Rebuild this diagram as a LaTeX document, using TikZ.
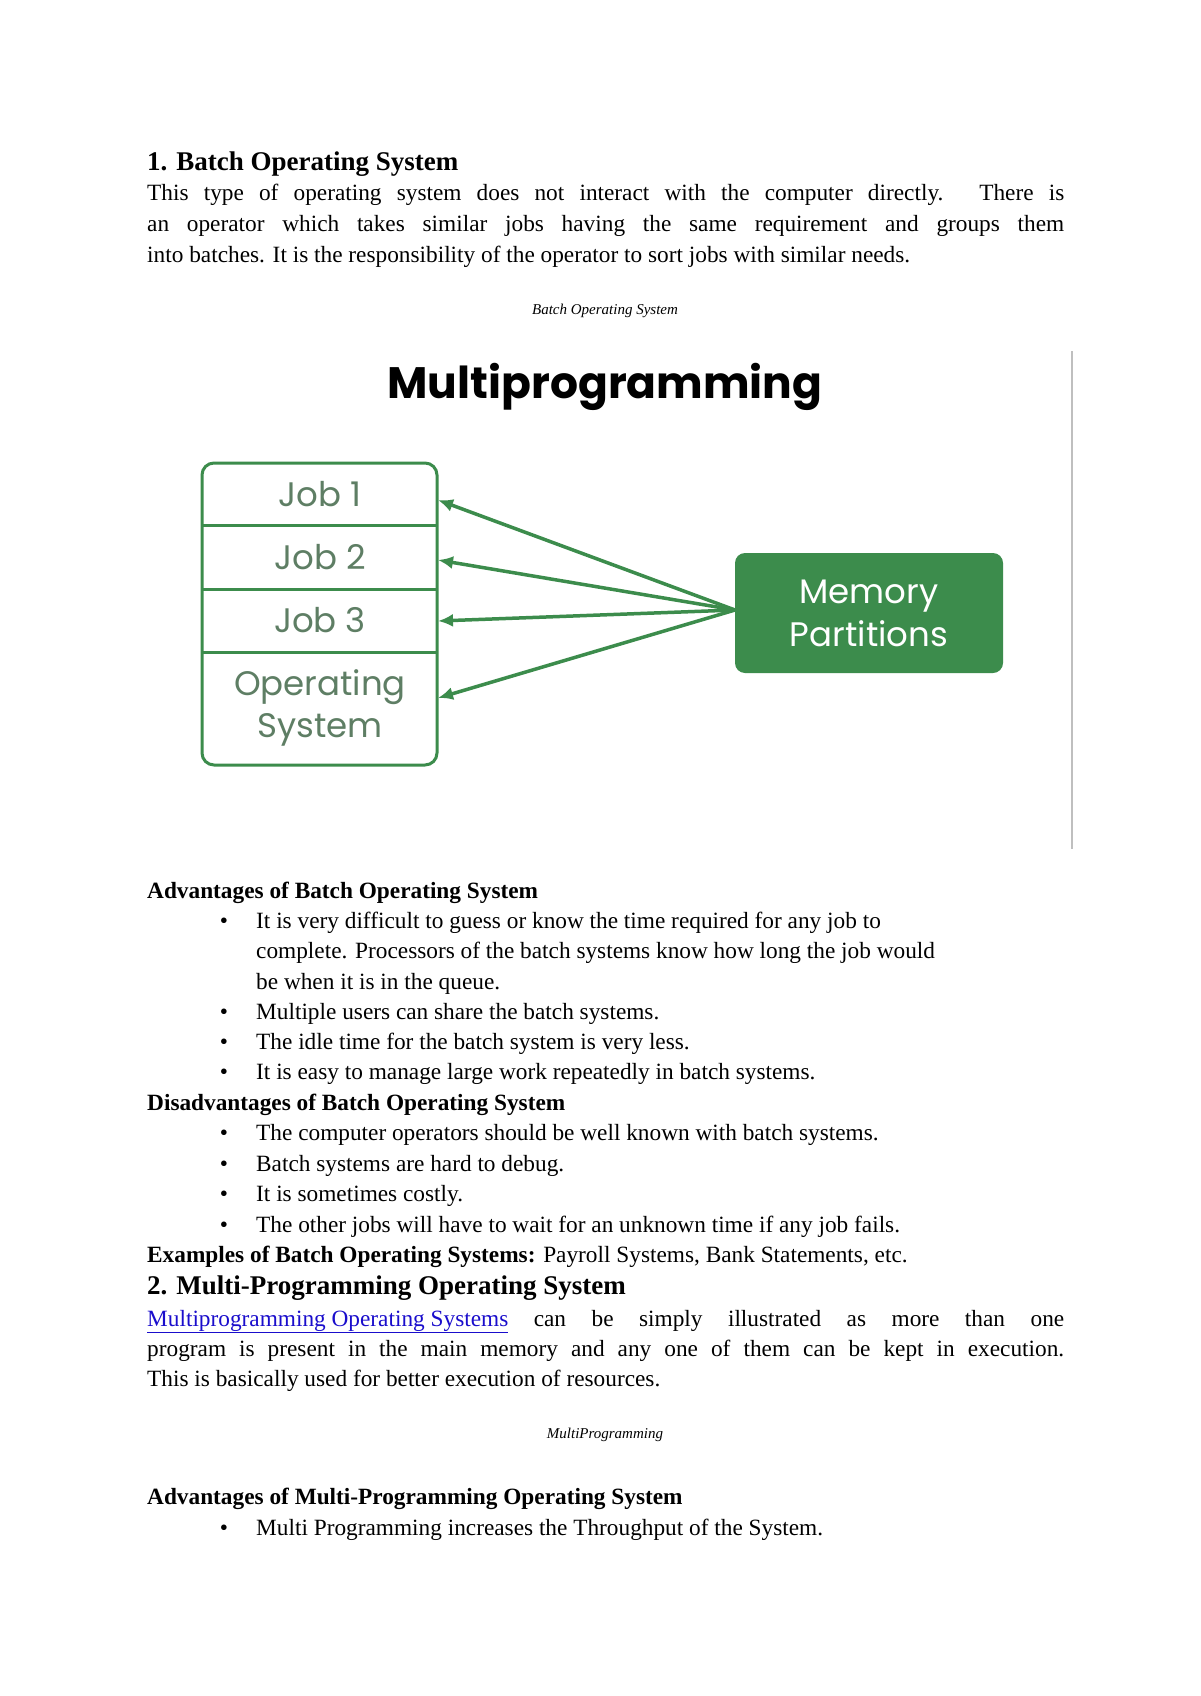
\documentclass[tikz,border=0pt]{standalone}
\usepackage{fontspec}
\setmainfont{Liberation Serif}
\newfontfamily\diag{Poppins}
\usetikzlibrary{arrows.meta}
\definecolor{gg}{HTML}{3C8C4C}
\definecolor{gt}{HTML}{5E7E64}
\definecolor{lk}{HTML}{1A0DCC}
\begin{document}
\begin{tikzpicture}[x=1pt,y=-1pt,
  tx/.style={anchor=base west,inner sep=0pt,font=\fontsize{23.3}{26}\selectfont},
  hd/.style={anchor=base west,inner sep=0pt,font=\fontsize{23.3}{26}\selectfont\bfseries},
  hb/.style={anchor=base west,inner sep=0pt,font=\fontsize{27}{30}\selectfont\bfseries},
  capt/.style={anchor=base,inner sep=0pt,font=\fontsize{15}{16}\selectfont\itshape},
  bul/.style={anchor=base,inner sep=0pt,font=\fontsize{23.3}{26}\selectfont},
  job/.style={inner sep=0pt,text=gt,font=\diag\fontsize{34}{40}\selectfont,align=center},
  arr/.style={draw=gg,line width=3.5pt,-{Latex[length=15pt,width=13pt]}}]
\useasboundingbox (0,0) rectangle (1200,1696);
\fill[white] (0,0) rectangle (1200,1696);
\node[hb] (h1) at (147,171) {1. Batch Operating System};
\node[tx] (p1) at (147,201) {\hbox to 917pt{This type of operating system does not interact with the computer directly. There is}};
\node[tx] (p2) at (147,232) {\hbox to 917pt{an operator which takes similar jobs having the same requirement and groups them}};
\node[tx] (p3) at (147,262) {into batches. It is the responsibility of the operator to sort jobs with similar needs.};
\node[capt] (c1) at (605,314) {Batch Operating System};
\draw[gray!50,line width=1.5pt] (1072,351) -- (1072,849);
\node[inner sep=0pt,font=\diag\fontsize{44}{50}\selectfont\bfseries] (t) at (605,387) {Multiprogramming};
\draw[gg,line width=3pt,rounded corners=12pt] (202,463) rectangle (437,765);
\draw[gg,line width=3pt] (202,525) -- (437,525) (202,589) -- (437,589) (202,652) -- (437,652);
\node[job] (j1) at (320,494) {Job 1};
\node[job] (j2) at (320,557) {Job 2};
\node[job] (j3) at (320,620) {Job 3};
\node[job,font=\diag\fontsize{34}{42}\selectfont] (os) at (320,708) {Operating\\System};
\node[fill=gg,rounded corners=10pt,minimum width=268pt,minimum height=120pt,text=white,align=center,font=\diag\fontsize{34}{43}\selectfont] (mem) at (869,613) {Memory\\Partitions};
\coordinate (m) at (735,610);
\coordinate (e1) at (438,500);
\coordinate (e2) at (438,560);
\coordinate (e3) at (438,621);
\coordinate (e4) at (438,698);
\draw[arr] (m) -- (e1);
\draw[arr] (m) -- (e2);
\draw[arr] (m) -- (e3);
\draw[arr] (m) -- (e4);
\node[hd] (a1) at (147,898) {Advantages of Batch Operating System};
\foreach \y/\t [count=\i] in {928/It is very difficult to guess or know the time required for any job to,958/complete. Processors of the batch systems know how long the job would,989/be when it is in the queue.,1019/Multiple users can share the batch systems.,1049/The idle time for the batch system is very less.,1079/It is easy to manage large work repeatedly in batch systems.}
  \node[tx] (b\i) at (256,\y) {\t};
\foreach \y [count=\i] in {928,1019,1049,1079} \node[bul] (d\i) at (224,\y) {•};
\node[hd] (a2) at (147,1110) {Disadvantages of Batch Operating System};
\foreach \y/\t [count=\i] in {1140/The computer operators should be well known with batch systems.,1171/Batch systems are hard to debug.,1201/It is sometimes costly.,1232/The other jobs will have to wait for an unknown time if any job fails.}
  {\node[tx] (c\i) at (256,\y) {\t}; \node[bul] (eb\i) at (224,\y) {•};}
\node[tx] (ex) at (147,1262) {\textbf{Examples of Batch Operating Systems:} Payroll Systems, Bank Statements, etc.};
\node[hb] (h2) at (147,1294) {2. Multi-Programming Operating System};
\node[tx] (q1) at (147,1326) {\hbox to 917pt{\textcolor{lk}{\underline{Multiprogramming Operating Systems}} can be simply illustrated as more than one}};
\node[tx] (q2) at (147,1356) {\hbox to 917pt{program is present in the main memory and any one of them can be kept in execution.}};
\node[tx] (q3) at (147,1386) {This is basically used for better execution of resources.};
\node[capt] (c2) at (605,1438) {MultiProgramming};
\node[hd] (a3) at (147,1504) {Advantages of Multi-Programming Operating System};
\node[tx] (f1) at (256,1535) {Multi Programming increases the Throughput of the System.};
\node[bul] (g1) at (224,1535) {•};
\end{tikzpicture}
\end{document}
